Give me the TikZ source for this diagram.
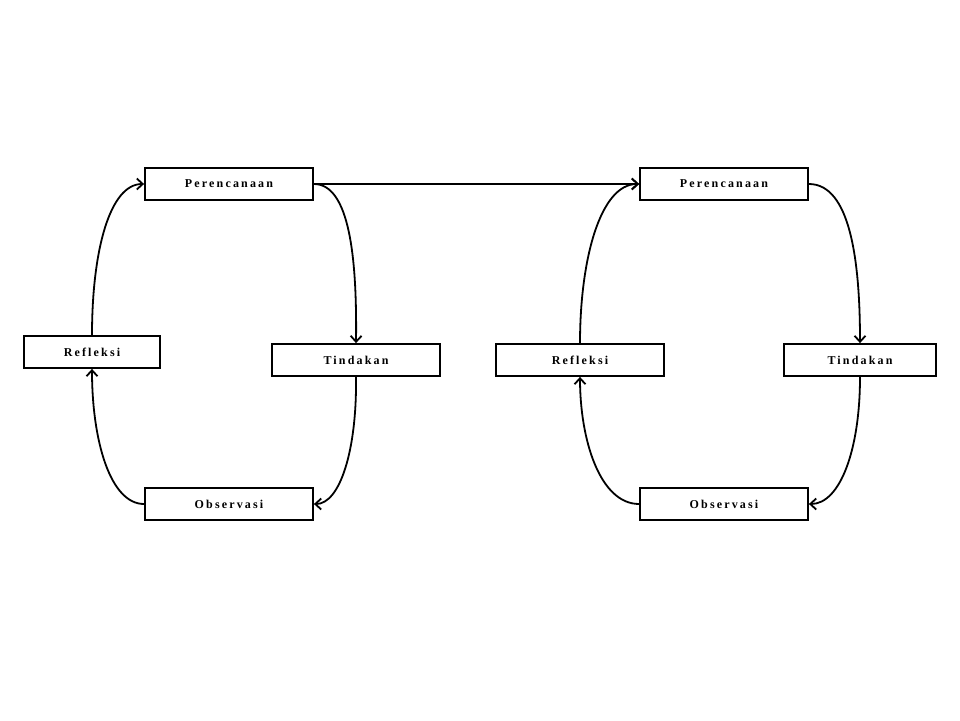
\documentclass[tikz,border=0pt]{standalone}
\usepackage{fontspec}
\setmainfont{Liberation Serif}[LetterSpace=18]
\usetikzlibrary{arrows.meta}
\tikzset{
  stage/.style={draw, line width=1.8pt, minimum height=32pt, inner sep=0pt,
    font=\fontsize{12}{12}\selectfont\bfseries},
  flow/.style={line width=1.8pt, -{Straight Barb[length=6pt,width=11pt]}}
}
\begin{document}
\begin{tikzpicture}[x=1pt,y=-1pt]
  \useasboundingbox (0,0) rectangle (960,720);
  % first cycle
  \node[stage, minimum width=168pt] (plan1) at (229,184) {Perencanaan};
  \node[stage, minimum width=168pt] (act1) at (356,360) {Tindakan};
  \node[stage, minimum width=168pt] (obs1) at (229,504) {Observasi};
  \node[stage, minimum width=136pt] (ref1) at (92,352) {Refleksi};
  % second cycle
  \node[stage, minimum width=168pt] (plan2) at (724,184) {Perencanaan};
  \node[stage, minimum width=152pt] (act2) at (860,360) {Tindakan};
  \node[stage, minimum width=168pt] (obs2) at (724,504) {Observasi};
  \node[stage, minimum width=168pt] (ref2) at (580,360) {Refleksi};
  % connectors
  \draw[flow] (plan1.east) .. controls (350,184) and (357,260) .. (act1.north);
  \draw[flow] (act1.south) .. controls (357,450) and (340,504) .. (obs1.east);
  \draw[flow] (obs1.west) .. controls (110,504) and (92,440) .. (ref1.south);
  \draw[flow] (ref1.north) .. controls (92,250) and (110,184) .. (plan1.west);
  \draw[flow] (plan1.east) -- (plan2.west);
  \draw[flow] (plan2.east) .. controls (850,184) and (860,260) .. (act2.north);
  \draw[flow] (act2.south) .. controls (860,450) and (840,504) .. (obs2.east);
  \draw[flow] (obs2.west) .. controls (600,504) and (580,440) .. (ref2.south);
  \draw[flow] (ref2.north) .. controls (580,260) and (600,184) .. (plan2.west);
\end{tikzpicture}
\end{document}
